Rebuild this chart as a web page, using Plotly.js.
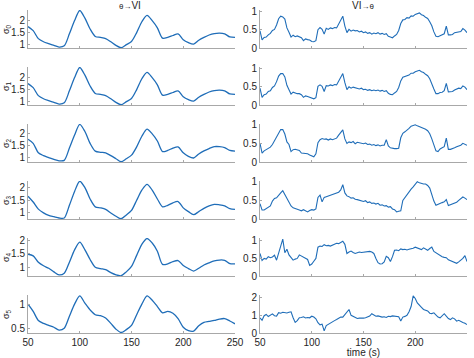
<!DOCTYPE html>
<html>
<head>
<meta charset="utf-8">
<script src="https://cdn.plot.ly/plotly-3.0.1.min.js"></script>
<style>html,body{margin:0;padding:0;background:#fff;}#chart{width:474px;height:358px;}</style>
</head>
<body>
<div id="chart"></div>
<script>
// time axis (s)
var timeL = [50,55,60,65,70,75,80,85,90,95,100,105,110,115,120,125,130,135,140,145,150,155,160,165,170,175,180,185,190,195,200,205,210,215,220,225,230,235,240,245,250];
var timeR = [];
for (var t = 50; t <= 250; t += 2) timeR.push(t);

// theta -> VI (left column)
var L0 = [1.75,1.58,1.25,1.12,1.04,0.97,0.9,0.95,1.45,2.0,2.42,2.1,1.65,1.34,1.3,1.25,1.12,0.97,0.87,1.0,1.13,1.5,1.95,2.22,2.0,1.7,1.27,1.3,1.38,1.45,1.2,1.08,1.02,1.18,1.3,1.4,1.46,1.48,1.45,1.32,1.3];
var L1 = [1.74,1.57,1.24,1.11,1.03,0.96,0.89,0.94,1.44,1.99,2.41,2.09,1.64,1.33,1.29,1.24,1.11,0.96,0.86,0.99,1.12,1.49,1.94,2.21,1.99,1.69,1.26,1.29,1.37,1.44,1.19,1.07,1.01,1.17,1.29,1.39,1.45,1.47,1.44,1.31,1.29];
var L2 = [1.77,1.6,1.2,1.08,1.0,0.92,0.86,0.88,1.4,1.95,2.4,2.1,1.6,1.27,1.22,1.2,1.08,0.95,0.82,0.95,1.1,1.45,1.9,2.2,2.0,1.7,1.25,1.3,1.4,1.45,1.2,1.05,0.98,1.15,1.28,1.38,1.46,1.46,1.42,1.3,1.27];
var L3 = [1.66,1.43,1.15,1.0,0.9,0.85,0.8,0.8,1.3,1.85,2.25,2.0,1.55,1.24,1.2,1.14,1.0,0.87,0.77,0.92,1.1,1.5,1.9,2.13,1.9,1.55,1.24,1.3,1.4,1.45,1.2,1.05,0.93,1.05,1.18,1.28,1.34,1.32,1.28,1.17,1.14];
var L4 = [1.49,1.43,1.2,1.07,0.98,0.85,0.74,0.8,1.2,1.65,1.93,1.65,1.3,1.02,0.97,0.93,0.82,0.74,0.71,0.85,1.05,1.45,1.85,2.06,1.9,1.6,1.12,1.14,1.22,1.26,1.08,0.97,0.88,0.98,1.1,1.18,1.25,1.28,1.27,1.15,1.14];
var L5 = [1.0,0.85,0.66,0.6,0.56,0.52,0.46,0.5,0.75,1.0,1.17,1.02,0.88,0.78,0.76,0.71,0.6,0.48,0.41,0.47,0.56,0.78,1.0,1.17,1.08,0.95,0.82,0.85,0.81,0.7,0.52,0.45,0.44,0.55,0.62,0.64,0.66,0.69,0.7,0.65,0.59];

// VI -> theta (right column)
var R0 = [0.47,0.22,0.29,0.3,0.36,0.4,0.48,0.51,0.63,0.8,
          0.87,0.85,0.79,0.55,0.43,0.3,0.35,0.31,0.33,0.3,
          0.28,0.2,0.25,0.23,0.22,0.18,0.17,0.2,0.5,0.56,
          0.51,0.38,0.54,0.51,0.55,0.53,0.56,0.55,0.66,0.77,
          0.87,0.6,0.42,0.51,0.46,0.49,0.47,0.48,0.44,0.46,
          0.42,0.44,0.4,0.42,0.38,0.41,0.39,0.42,0.38,0.4,
          0.37,0.39,0.32,0.3,0.28,0.33,0.37,0.48,0.67,0.77,
          0.78,0.83,0.82,0.88,0.87,0.92,0.93,0.96,0.91,0.89,
          0.84,0.81,0.72,0.61,0.44,0.32,0.31,0.34,0.35,0.39,
          0.6,0.36,0.36,0.37,0.42,0.43,0.46,0.45,0.53,0.49,
          0.42];
var R1 = [0.46,0.21,0.28,0.3,0.37,0.39,0.48,0.52,0.64,0.79,
          0.86,0.86,0.77,0.54,0.42,0.3,0.35,0.32,0.31,0.31,
          0.28,0.21,0.25,0.23,0.21,0.18,0.17,0.2,0.51,0.55,
          0.51,0.37,0.53,0.52,0.55,0.53,0.56,0.55,0.65,0.77,
          0.86,0.61,0.42,0.5,0.46,0.49,0.47,0.47,0.44,0.46,
          0.42,0.43,0.4,0.42,0.39,0.41,0.39,0.41,0.38,0.4,
          0.37,0.39,0.32,0.29,0.28,0.33,0.37,0.48,0.66,0.76,
          0.78,0.82,0.82,0.87,0.87,0.91,0.93,0.95,0.91,0.89,
          0.84,0.8,0.72,0.6,0.44,0.31,0.31,0.34,0.35,0.39,
          0.59,0.36,0.36,0.37,0.41,0.43,0.46,0.45,0.52,0.49,
          0.42];
var R2 = [0.5,0.24,0.3,0.34,0.37,0.4,0.47,0.57,0.67,0.8,
          0.87,0.87,0.75,0.54,0.47,0.28,0.33,0.34,0.32,0.31,
          0.24,0.23,0.24,0.22,0.19,0.16,0.14,0.22,0.52,0.6,
          0.63,0.61,0.62,0.59,0.62,0.6,0.63,0.64,0.72,0.8,
          0.86,0.62,0.5,0.54,0.52,0.55,0.49,0.53,0.51,0.5,
          0.49,0.51,0.47,0.48,0.45,0.47,0.44,0.46,0.43,0.45,
          0.45,0.6,0.43,0.38,0.36,0.36,0.36,0.37,0.65,0.77,
          0.81,0.85,0.9,0.96,0.99,1.0,0.97,0.95,0.93,0.92,
          0.88,0.84,0.76,0.62,0.48,0.3,0.28,0.35,0.38,0.41,
          0.64,0.34,0.34,0.35,0.38,0.41,0.43,0.45,0.5,0.48,
          0.45];
var R3 = [0.41,0.24,0.24,0.27,0.3,0.35,0.48,0.55,0.57,0.65,
          0.7,0.76,0.66,0.55,0.48,0.35,0.3,0.27,0.26,0.24,
          0.22,0.25,0.23,0.19,0.23,0.25,0.24,0.27,0.58,0.64,
          0.46,0.58,0.6,0.62,0.64,0.65,0.66,0.68,0.72,0.78,
          0.92,0.7,0.62,0.6,0.56,0.57,0.53,0.52,0.51,0.5,
          0.47,0.49,0.44,0.46,0.42,0.43,0.4,0.42,0.37,0.38,
          0.35,0.36,0.32,0.33,0.27,0.25,0.19,0.21,0.22,0.5,
          0.58,0.66,0.72,0.8,0.86,0.92,1.0,0.97,0.95,0.94,
          0.94,0.9,0.83,0.65,0.48,0.37,0.4,0.42,0.44,0.46,
          0.52,0.36,0.38,0.4,0.42,0.45,0.5,0.55,0.59,0.56,
          0.52];
var R4 = [0.64,0.44,0.5,0.48,0.55,0.52,0.54,0.59,0.45,0.66,
          0.85,1.05,0.66,0.76,0.6,0.52,0.45,0.48,0.5,0.6,
          0.57,0.52,0.5,0.47,0.3,0.34,0.42,0.5,0.82,0.85,
          0.84,0.89,0.86,0.87,0.85,0.88,0.89,0.93,0.92,0.96,
          0.99,0.9,0.64,0.68,0.71,0.67,0.64,0.66,0.68,0.67,
          0.68,0.7,0.71,0.7,0.68,0.64,0.5,0.38,0.34,0.35,
          0.4,0.56,0.52,0.41,0.55,0.73,0.74,0.72,0.77,0.75,
          0.76,0.74,0.76,0.77,0.79,0.82,0.8,0.77,0.75,0.8,
          0.76,0.73,0.78,0.82,0.7,0.66,0.64,0.58,0.55,0.53,
          0.52,0.46,0.44,0.42,0.4,0.36,0.4,0.44,0.5,0.58,
          0.41];
var R5 = [0.86,0.72,0.98,1.05,0.93,1.0,1.08,0.98,0.96,1.15,
          1.12,1.17,1.14,1.13,1.17,1.2,0.86,0.6,0.7,0.86,
          0.88,0.92,0.85,0.88,0.86,0.95,0.9,0.8,0.58,0.46,
          0.5,0.12,0.42,0.5,0.57,0.63,0.7,0.76,0.82,0.9,
          0.9,1.05,1.14,1.33,1.0,0.95,0.9,0.82,0.84,0.82,
          0.84,0.86,0.9,0.96,1.09,1.0,0.95,0.97,0.94,0.9,
          0.92,0.88,0.95,0.93,0.97,0.95,0.95,0.92,0.68,0.9,
          0.94,1.0,1.2,1.5,2.1,1.95,1.7,1.55,1.45,1.33,
          1.3,1.25,1.12,1.1,1.14,1.0,0.9,0.86,1.0,1.09,
          0.95,0.82,0.76,0.86,0.8,0.67,0.72,0.68,0.6,0.55,
          0.48];

var leftSeries = [L0, L1, L2, L3, L4, L5];
var rightSeries = [R0, R1, R2, R3, R4, R5];
var rowLabels = ['σ<sub>0</sub>','σ<sub>1</sub>','σ<sub>2</sub>','σ<sub>3</sub>','σ<sub>4</sub>','σ<sub>5</sub>'];
var leftRanges = [[0.86,2.44],[0.85,2.43],[0.81,2.42],[0.76,2.26],[0.7,2.08],[0.4,1.19]];
var rightRanges = [[0,1.04],[0,1.04],[0,1.02],[0,1.02],[0,1.08],[0,2.15]];
var leftTicks = [[1,1.5,2],[1,1.5,2],[1,1.5,2],[1,1.5,2],[1,1.5,2],[0.5,1]];
var leftTickText = [['1','1.5','2'],['1','1.5','2'],['1','1.5','2'],['1','1.5','2'],['1','1.5','2'],['0.5','1']];
var rightTicks = [[0,0.5,1],[0,0.5,1],[0,0.5,1],[0,0.5,1],[0,0.5,1],[0,1,2]];
var rightTickText = [['0','0.5','1'],['0','0.5','1'],['0','0.5','1'],['0','0.5','1'],['0','0.5','1'],['0','1','2']];
var xTicks = [50,100,150,200,250];
var xTickText = ['50','100','150','200','250'];

(function () {
  var W = 474, H = 358;
  var lineColor = '#1f6db8';
  var axisColor = '#a8a8a8';
  var textColor = '#262626';
  var fam = '"Liberation Sans", Arial, Helvetica, sans-serif';

  var data = [];
  var layout = {
    width: W, height: H,
    margin: {l: 0, r: 0, t: 0, b: 0},
    paper_bgcolor: '#ffffff', plot_bgcolor: '#ffffff',
    showlegend: false,
    font: {family: fam, size: 10, color: textColor},
    annotations: []
  };

  var colX = [[28 / W, 235 / W], [260 / W, 467 / W]];

  for (var r = 0; r < 6; r++) {
    var yTop = 10 + 57 * r, yBot = 48 + 57 * r;
    var yd = [1 - yBot / H, 1 - yTop / H];
    for (var c = 0; c < 2; c++) {
      var idx = r * 2 + c + 1;
      var sfx = idx === 1 ? '' : String(idx);
      var xa = 'x' + sfx, ya = 'y' + sfx;
      data.push({
        type: 'scatter', mode: 'lines',
        x: c === 0 ? timeL : timeR,
        y: c === 0 ? leftSeries[r] : rightSeries[r],
        xaxis: xa, yaxis: ya,
        line: c === 0 ? {color: lineColor, width: 1.3, shape: 'spline', smoothing: 0.8} : {color: lineColor, width: 1.1},
        hoverinfo: 'skip'
      });
      var isBottom = (r === 5);
      layout['xaxis' + sfx] = {
        domain: colX[c], anchor: ya, range: [50, 250],
        showgrid: false, zeroline: false,
        showline: true, linecolor: axisColor, linewidth: 1,
        ticks: 'inside', ticklen: 2, tickcolor: axisColor,
        tickmode: 'array', tickvals: xTicks, ticktext: xTickText,
        showticklabels: isBottom,
        tickfont: {family: fam, size: 10, color: textColor},
        fixedrange: true
      };
      if (isBottom && c === 1) {
        layout['xaxis' + sfx].title = {text: 'time (s)', font: {family: fam, size: 10, color: textColor}, standoff: 1};
      }
      layout['yaxis' + sfx] = {
        domain: yd, anchor: xa,
        range: c === 0 ? leftRanges[r] : rightRanges[r],
        showgrid: false, zeroline: false,
        showline: true, linecolor: axisColor, linewidth: 1,
        ticks: 'inside', ticklen: 2, tickcolor: axisColor,
        tickmode: 'array',
        tickvals: c === 0 ? leftTicks[r] : rightTicks[r],
        ticktext: c === 0 ? leftTickText[r] : rightTickText[r],
        tickfont: {family: fam, size: 10, color: textColor},
        fixedrange: true
      };
    }
    layout.annotations.push({
      text: rowLabels[r], xref: 'paper', yref: 'paper',
      x: 6 / W, y: 1 - ((yTop + yBot) / 2) / H,
      xanchor: 'center', yanchor: 'middle', textangle: -90, showarrow: false,
      font: {family: fam, size: 9, color: textColor}
    });
  }

  layout.annotations.push({
    text: '<span style="font-size:8px">θ→</span>VI', xref: 'paper', yref: 'paper',
    x: 130 / W, y: 1 - 5 / H, xanchor: 'center', yanchor: 'middle', showarrow: false,
    font: {family: fam, size: 10, color: textColor}
  });
  layout.annotations.push({
    text: 'VI<span style="font-size:8px">→θ</span>', xref: 'paper', yref: 'paper',
    x: 363 / W, y: 1 - 5 / H, xanchor: 'center', yanchor: 'middle', showarrow: false,
    font: {family: fam, size: 10, color: textColor}
  });

  Plotly.newPlot('chart', data, layout, {displayModeBar: false, staticPlot: true});
})();
</script>
</body>
</html>
